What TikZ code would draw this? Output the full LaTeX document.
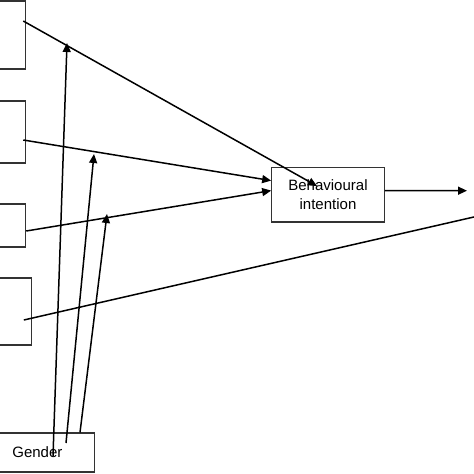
\documentclass[tikz,border=0pt]{standalone}
\usepackage{fontspec}
\setmainfont{Liberation Sans}
\usepackage{tikz}
\usetikzlibrary{calc}
\usetikzlibrary{arrows.meta}
\usetikzlibrary{positioning}

\begin{document}
\begin{tikzpicture}[x=1pt,y=-1pt]
% 1 = 1px, y grows downwards
    \tikzset{
      factor/.style={draw=black!80,line width=1.1pt,inner sep=0pt,
        minimum width=#1},
      factor/.default=45.7pt,
      link/.style={line width=1.5pt,
        -{Triangle[length=9pt,width=8pt]}},
      label/.style={font=\fontsize{15}{18.5}\selectfont,align=center},
    }

    \useasboundingbox (0,0) rectangle (474,474);

    % LEFT BOXES (cut by the edge)
    \node[factor,minimum height=68pt] (att) at (2.85,35) {};
    \node[factor,minimum height=62pt] (norm) at (2.85,132) {};
    \node[factor,minimum height=43pt] (pbc) at (2.85,225.5) {};
    \node[factor=51.3pt,minimum height=67pt] (hab) at (5.65,311.5) {};

    % GENDER
    \node[factor=114.7pt,minimum height=39pt,label] (gender) at (37.35,452.5)
        {Gender};

    % BEHAVIOURAL INTENTION
    \node[factor=112.6pt,minimum height=54.7pt,label] (bi) at (328,194.6)
        {Behavioural\\intention};

    % free ends
    \coordinate (exit) at (480,215.6);
    \coordinate (out) at (467,190.7);
    \coordinate (tipA) at (67,43);
    \coordinate (tipB) at (94,154);
    \coordinate (tipC) at (107,214);

    % PATHS TO INTENTION
    \draw[link] ([xshift=-3pt,yshift=14pt]att.east)
        -- ([xshift=-11pt,yshift=8.6pt]bi.center);
    \draw[link] ([xshift=-3pt,yshift=-8pt]norm.east) -- ([yshift=14pt]bi.west);
    \draw[link] ([yshift=-5.5pt]pbc.east) -- ([yshift=4pt]bi.west);
    \draw[line width=1.5pt] ([xshift=-8pt,yshift=-8.5pt]hab.east) -- (exit);
    \draw[link] ([yshift=4pt]bi.east) -- (out);

    % MODERATION BY GENDER
    \draw[link] ([xshift=15.65pt,yshift=-3.5pt]gender.center) -- (tipA);
    \draw[link] ([xshift=28.65pt,yshift=9.5pt]gender.center) -- (tipB);
    \draw[link] ([xshift=42.65pt]gender.north) -- (tipC);

\end{tikzpicture}
\end{document}
